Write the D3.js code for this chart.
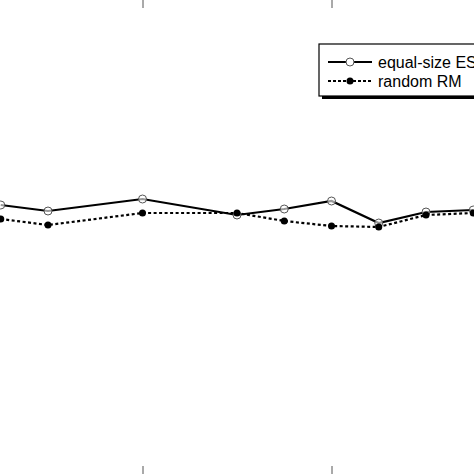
<!DOCTYPE html><html><head><script src="https://d3js.org/d3.v7.min.js"></script>
<style>body{margin:0}</style></head><body><svg id="c" width="474" height="474"></svg>
<script>
const xs=[0,1,3,5,6,7,8,9,10];
const esVals=[205,211,199,215,209,201,223,212,210];
const rmVals=[219,225,213,213,221,226,227,215,213];
const tickVals=[3,7];
const svg=d3.select("#c");
svg.append("rect").attr("width",474).attr("height",474).attr("fill","#fff");
const x=d3.scaleLinear().domain([0,10]).range([0.75,473.25]);
const y=d3.scaleLinear().domain([0,474]).range([0,474]);
const topAxis=d3.axisTop(x).tickValues(tickVals).tickSize(8).tickFormat("");
svg.append("g").call(d3.axisBottom(x).tickValues(tickVals).tickSize(8).tickFormat("")).call(g=>g.select(".domain").remove()).selectAll("line").attr("stroke","#555");
svg.append("g").attr("transform","translate(0,474)").call(topAxis).call(g=>g.select(".domain").remove()).selectAll("line").attr("stroke","#555");
const line=d3.line().x((d,i)=>x(xs[i])).y(d=>y(d));
svg.append("path").attr("d",line(rmVals)).attr("fill","none").attr("stroke","#000").attr("stroke-width",2.2).attr("stroke-dasharray","3,2.5");
svg.append("path").attr("d",line(esVals)).attr("fill","none").attr("stroke","#000").attr("stroke-width",2.2);
svg.selectAll(".e").data(esVals).join("circle").attr("cx",(d,i)=>x(xs[i])).attr("cy",d=>y(d)).attr("r",4).attr("fill","#fff").attr("fill-opacity",0.6).attr("stroke","#555");
svg.selectAll(".r").data(rmVals).join("circle").attr("cx",(d,i)=>x(xs[i])).attr("cy",d=>y(d)).attr("r",3.5).attr("fill","#000");
const L=svg.append("g");
L.append("rect").attr("x",322).attr("y",47).attr("width",160).attr("height",52).attr("fill","#000");
L.append("rect").attr("x",319).attr("y",44).attr("width",160).attr("height",52).attr("fill","#fff").attr("stroke","#000").attr("stroke-width",1.2);
L.append("line").attr("x1",328).attr("x2",372).attr("y1",62).attr("y2",62).attr("stroke","#000").attr("stroke-width",2);
L.append("circle").attr("cx",350).attr("cy",62).attr("r",4).attr("fill","#fff").attr("stroke","#555");
L.append("line").attr("x1",328).attr("x2",372).attr("y1",81).attr("y2",81).attr("stroke","#000").attr("stroke-width",2).attr("stroke-dasharray","3,2");
L.append("circle").attr("cx",350).attr("cy",81).attr("r",3.5).attr("fill","#000");
L.append("text").attr("x",378).attr("y",68).text("equal-size ES").attr("font-family","Liberation Sans, Arial").attr("font-size",16);
L.append("text").attr("x",378).attr("y",87).text("random RM").attr("font-family","Liberation Sans, Arial").attr("font-size",16);
</script></body></html>
